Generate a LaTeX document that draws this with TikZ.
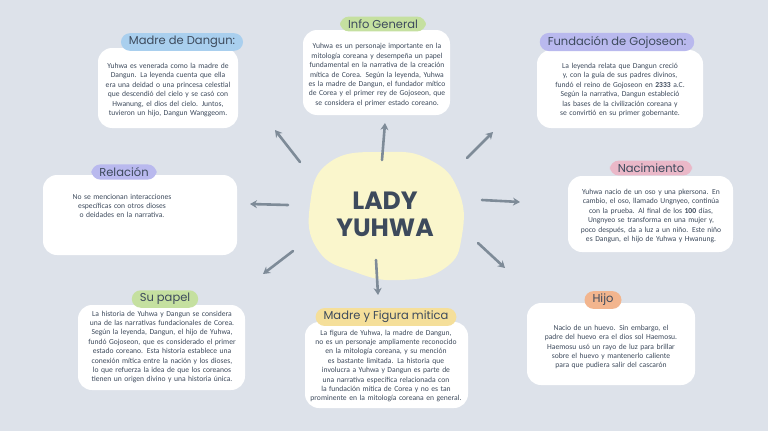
\documentclass[tikz,border=0pt]{standalone}
\usepackage{fontspec}
\setmainfont{Carlito}
\newfontfamily\titlef{Poppins}
\usetikzlibrary{arrows.meta}
\definecolor{bg}{HTML}{DDE2EA}
\definecolor{ink}{HTML}{3D4A5C}
\definecolor{arr}{HTML}{7E8B98}
\definecolor{cgreen}{HTML}{C5E0A0}
\definecolor{cblue}{HTML}{A9CFEE}
\definecolor{clav}{HTML}{B9B9EE}
\definecolor{cpink}{HTML}{EAB8C8}
\definecolor{cyel}{HTML}{F5DF9A}
\definecolor{corg}{HTML}{F2B58E}
\definecolor{blob}{HTML}{FAF6CC}
\begin{document}
\begin{tikzpicture}[x=1pt,y=-1pt,
  card/.style={fill=white,rounded corners=14pt,inner sep=0pt},
  body/.style={text=ink,font=\fontsize{7.6}{9.4}\selectfont,align=center,execute at begin node={\hyphenpenalty=10000\relax}},
  pill/.style={rounded corners=9pt,text=ink,font=\titlef\fontsize{11.5}{13}\selectfont,inner xsep=8pt,inner ysep=3pt},
  ray/.style={draw=arr,line width=2.6pt,line cap=round,-{Stealth[length=7pt,width=8pt]}}]
\useasboundingbox[fill=bg] (0,0) rectangle (768,431);
% cards
\fill[card] (303,30) rectangle (450,115);
\fill[card] (98,48) rectangle (238,128);
\fill[card] (537,50) rectangle (703,128);
\fill[card] (43,175) rectangle (237,255);
\fill[card] (568,176) rectangle (733,252);
\fill[card] (78,305) rectangle (245,390);
\fill[card] (305,322) rectangle (468,408);
\fill[card] (527,303) rectangle (695,385);
% body texts
\node[body,text width=140pt] (tInfo) at (377,75) {Yuhwa es un personaje importante en la mitología coreana y desempeña un papel fundamental en la narrativa de la creación mítica de Corea. Según la leyenda, Yuhwa es la madre de Dangun, el fundador mítico de Corea y el primer rey de Gojoseon, que se considera el primer estado coreano.};
\node[body,text width=130pt] (tMadre) at (168,90) {Yuhwa es venerada como la madre de Dangun. La leyenda cuenta que ella era una deidad o una princesa celestial que descendió del cielo y se casó con Hwanung, el dios del cielo. Juntos, tuvieron un hijo, Dangun Wanggeom.};
\node[body,text width=150pt] (tFund) at (620,90) {La leyenda relata que Dangun creció y, con la guía de sus padres divinos, fundó el reino de Gojoseon en \textbf{2333} a.C. Según la narrativa, Dangun estableció las bases de la civilización coreana y se convirtió en su primer gobernante.};
\node[body,text width=120pt] (tRel) at (122,206) {No se mencionan interacciones específicas con otros dioses o deidades en la narrativa.};
\node[body,text width=155pt] (tNac) at (651,216) {Yuhwa nacio de un oso y una pkersona. En cambio, el oso, llamado Ungnyeo, continúa con la prueba. Al final de los \textbf{100} días, Ungnyeo se transforma en una mujer y, poco después, da a luz a un niño. Este niño es Dangun, el hijo de Yuhwa y Hwanung.};
\node[body,text width=160pt] (tPapel) at (162,347) {La historia de Yuhwa y Dangun se considera una de las narrativas fundacionales de Corea. Según la leyenda, Dangun, el hijo de Yuhwa, fundó Gojoseon, que es considerado el primer estado coreano. Esta historia establece una conexión mítica entre la nación y los dioses, lo que refuerza la idea de que los coreanos tienen un origen divino y una historia única.};
\node[body,text width=158pt] (tFig) at (386,366) {La figura de Yuhwa, la madre de Dangun, no es un personaje ampliamente reconocido en la mitología coreana, y su mención es bastante limitada. La historia que involucra a Yuhwa y Dangun es parte de una narrativa específica relacionada con la fundación mítica de Corea y no es tan prominente en la mitología coreana en general.};
\node[body,text width=140pt] (tHijo) at (611,347) {Nacio de un huevo. Sin embargo, el padre del huevo era el dios sol Haemosu. Haemosu usó un rayo de luz para brillar sobre el huevo y mantenerlo caliente para que pudiera salir del cascarón};
% pills
\node[pill,fill=cgreen] (pInfo) at (383,24) {Info General};
\node[pill,fill=cblue] (pMadre) at (182,42) {Madre de Dangun:};
\node[pill,fill=clav] (pFund) at (617,42) {Fundación de Gojoseon:};
\node[pill,fill=clav] (pRel) at (124,172) {Relación};
\node[pill,fill=cpink] (pNac) at (651,168) {Nacimiento};
\node[pill,fill=cgreen] (pPapel) at (165,299) {Su papel};
\node[pill,fill=cyel] (pFig) at (386,317) {Madre y Figura mitica};
\node[pill,fill=corg] (pHijo) at (603,300) {Hijo};
% center blob
\fill[blob] plot[smooth cycle,tension=0.8] coordinates {(330,162) (385,152) (430,160) (458,190) (462,235) (445,268) (400,280) (355,272) (318,250) (310,205)};
\node[text=ink,font=\titlef\bfseries\fontsize{25}{27}\selectfont,align=center] (center) at (385,214) {LADY\\YUHWA};
% rays
\foreach \a/\b/\c/\d [count=\i] in {300/162/275/130, 382/160/385/123, 467/158/493/132, 288/205/250/204, 482/200/520/202, 293/251/263/274, 376/260/378/295, 478/243/505/268}{
  \coordinate (s\i) at (\a,\b); \coordinate (e\i) at (\c,\d);
  \draw[ray] (s\i) -- (e\i);
}
\end{tikzpicture}
\end{document}
